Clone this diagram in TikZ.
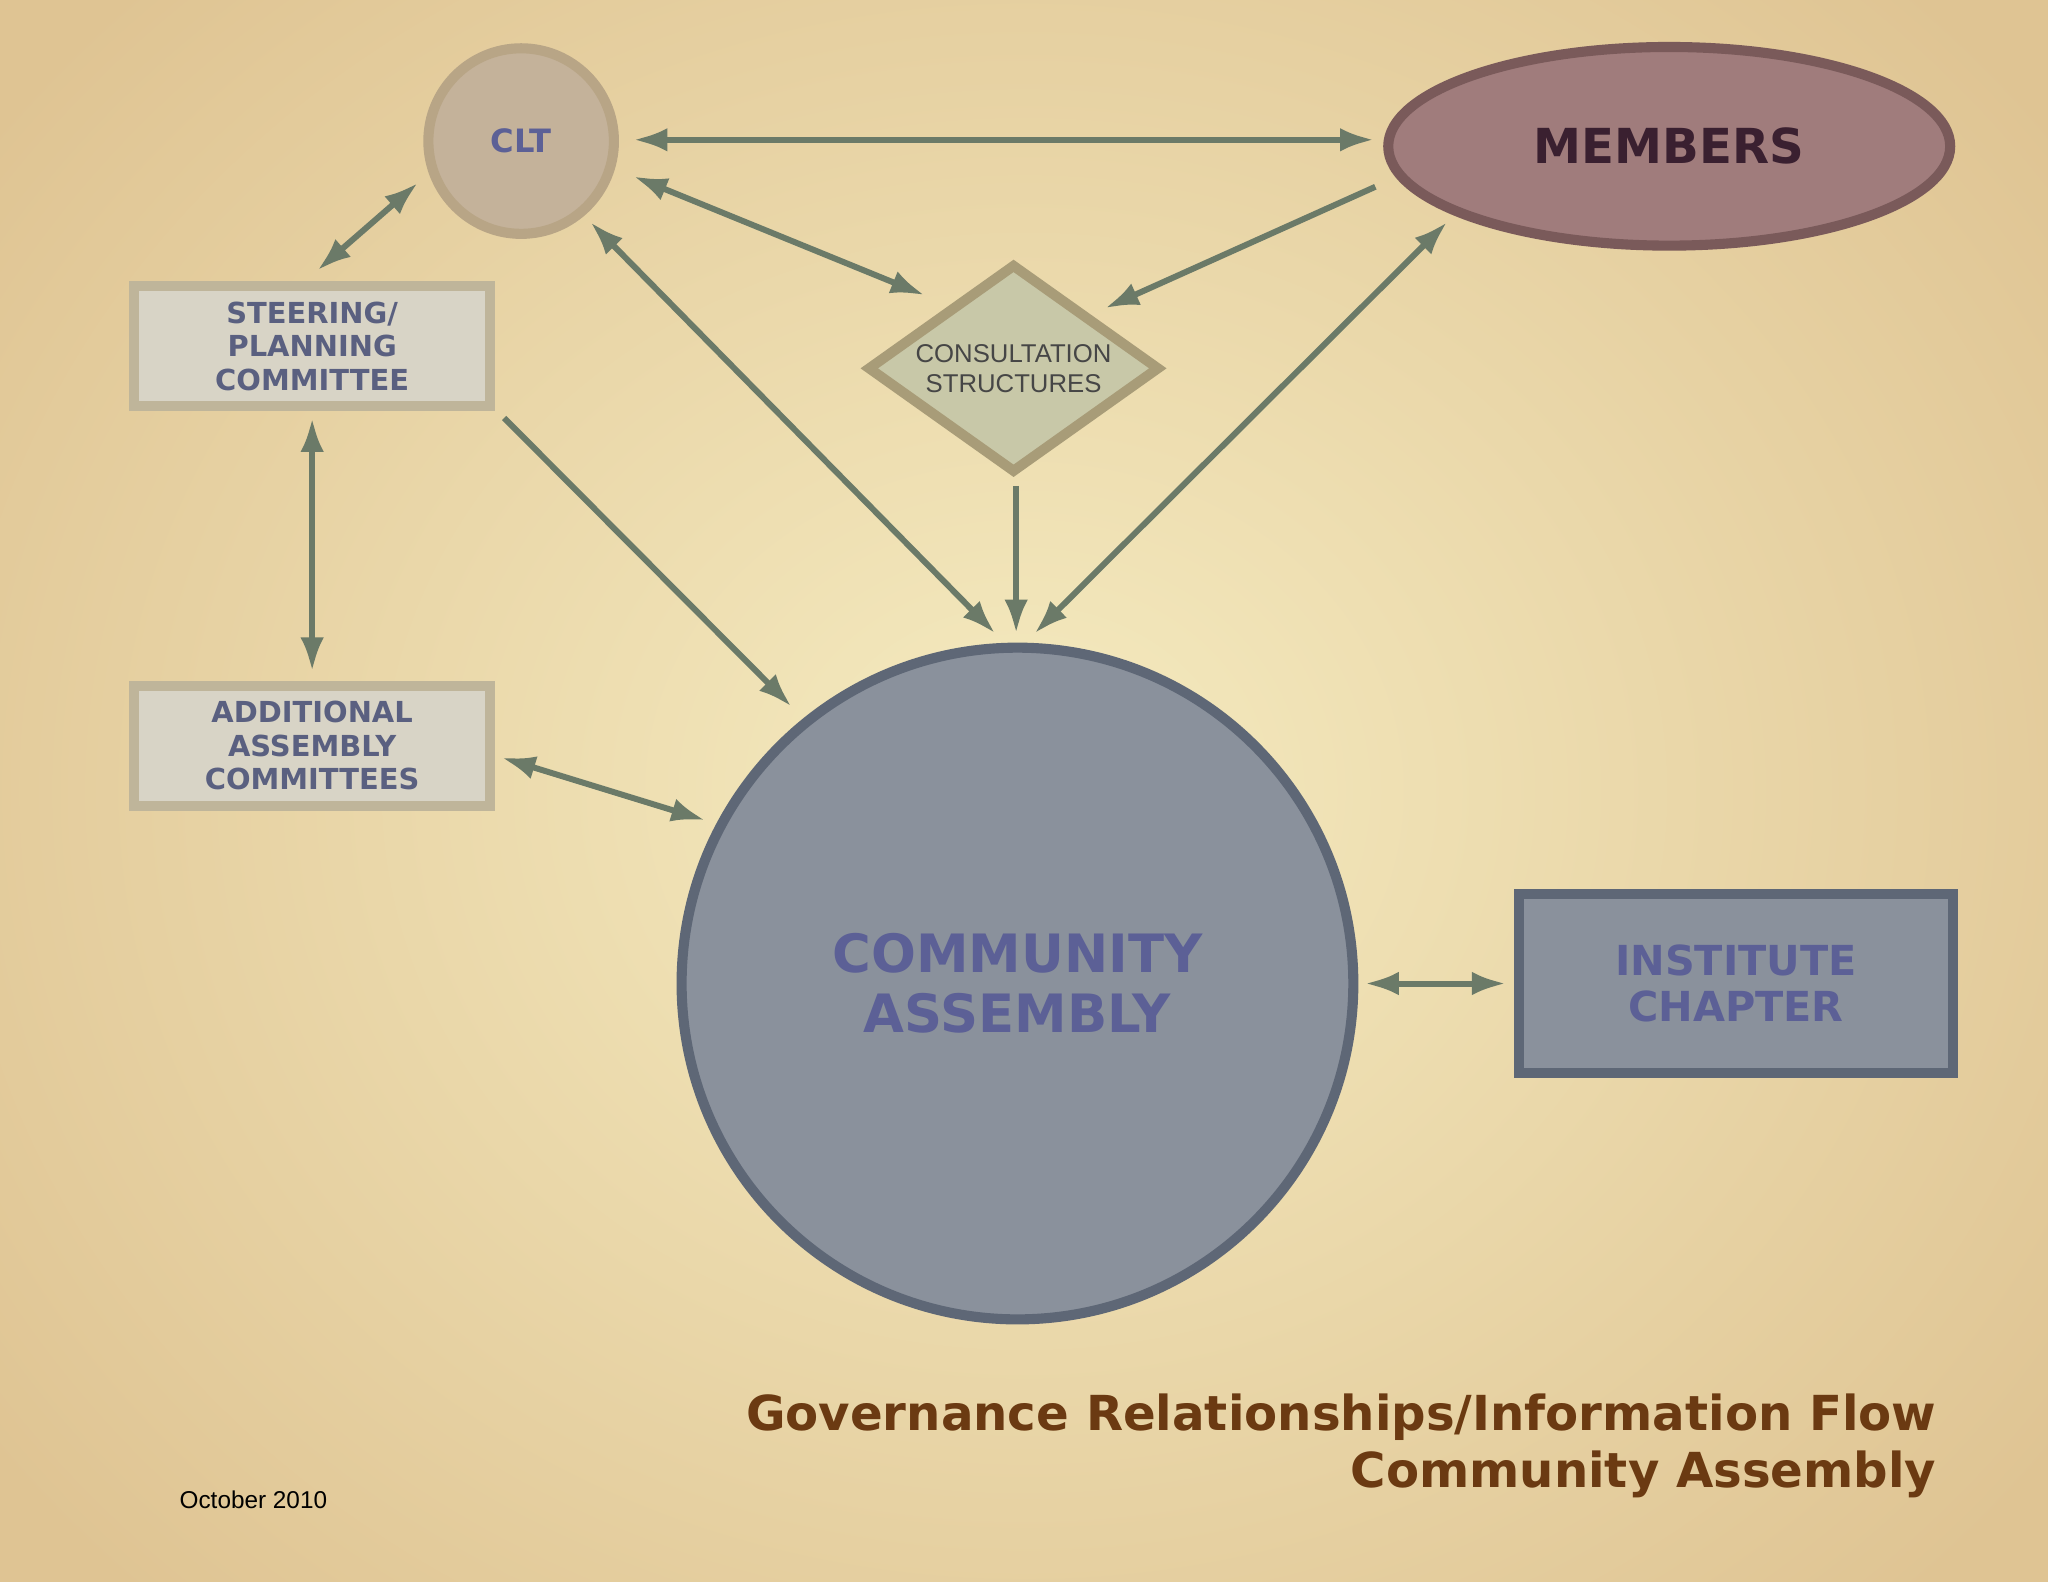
\documentclass[tikz,border=0pt]{standalone}
\usepackage{fontspec}
\setmainfont{Liberation Sans}
\newfontfamily\blk{DejaVu Sans}
\usetikzlibrary{shapes.geometric,arrows.meta}
\definecolor{arr}{HTML}{6B7A68}
\definecolor{lbl}{HTML}{5A6080}
\definecolor{cab}{HTML}{5C6096}
\definecolor{titl}{HTML}{6B3A12}
\definecolor{bgin}{HTML}{F5EBC0}
\definecolor{bgout}{HTML}{DFC493}
\definecolor{cltd}{HTML}{B8A586}
\definecolor{cltf}{HTML}{C4B29A}
\definecolor{memd}{HTML}{7A5A5A}
\definecolor{memf}{HTML}{A07C7C}
\definecolor{memt}{HTML}{3A2030}
\definecolor{boxd}{HTML}{BFB59A}
\definecolor{boxf}{HTML}{D8D4C6}
\definecolor{dimd}{HTML}{A89C78}
\definecolor{dimf}{HTML}{C8C8A8}
\definecolor{dimt}{HTML}{464646}
\definecolor{cad}{HTML}{5E6776}
\definecolor{caf}{HTML}{8A919C}
\begin{document}
\begin{tikzpicture}[x=0.01cm,y=-0.01cm,
  con/.style={draw=arr,line width=1.3pt,-{Latex[length=0.26cm,width=0.18cm]}},
  bcon/.style={con,{Latex[length=0.26cm,width=0.18cm]}-{Latex[length=0.26cm,width=0.18cm]}},
  pbox/.style={draw=boxd,fill=boxf,line width=2.2pt,minimum width=2.72cm,minimum height=0.92cm,align=center,inner sep=0pt},
  blab/.style={font=\blk\bfseries\fontsize{6.3}{7.3}\selectfont,text=lbl}]
\useasboundingbox (0,0) rectangle (1568,1211);
\shade[inner color=bgin, outer color=bgout] (-200,-250) rectangle (1768,1461);
% nodes
\node[circle,draw=cltd,fill=cltf,line width=2.2pt,minimum size=1.42cm,text=cab,font=\blk\bfseries\fontsize{7}{8}\selectfont] (clt) at (399,108) {CLT};
\node[ellipse,draw=memd,fill=memf,line width=2.2pt,minimum width=4.3cm,minimum height=1.52cm,text=memt,font=\blk\bfseries\fontsize{10.5}{12}\selectfont] (mem) at (1278,112) {MEMBERS};
\node[pbox,blab] (steer) at (239,265) {STEERING/\\PLANNING\\COMMITTEE};
\node[pbox,blab] (add) at (239,571) {ADDITIONAL\\ASSEMBLY\\COMMITTEES};
\node[diamond,draw=dimd,fill=dimf,line width=2.2pt,minimum width=2.24cm,minimum height=1.6cm,inner sep=0pt,aspect=1.4,align=center,text=dimt,font=\fontsize{5.6}{6.6}\selectfont] (cons) at (776,282) {CONSULTATION\\STRUCTURES};
\node[circle,draw=cad,fill=caf,line width=2.2pt,minimum size=5.14cm,align=center,text=cab,font=\blk\bfseries\fontsize{11.5}{13}\selectfont] (ca) at (779,753) {COMMUNITY\\ASSEMBLY};
\node[draw=cad,fill=caf,line width=2.2pt,minimum width=3.32cm,minimum height=1.37cm,align=center,text=cab,font=\blk\bfseries\fontsize{9}{10}\selectfont] (inst) at (1329,753) {INSTITUTE\\CHAPTER};
\node[anchor=east,align=right,text=titl,font=\blk\bfseries\fontsize{10.5}{12.3}\selectfont] (title) at (1495,1107) {Governance Relationships/Information Flow\\Community Assembly};
\node[font=\fontsize{5.3}{6}\selectfont] (date) at (194,1148) {October 2010};
% endpoints
\coordinate (a1) at (485,107); \coordinate (b1) at (1052,107);
\coordinate (a2) at (485,135); \coordinate (b2) at (708,226);
\coordinate (a3) at (1053,143); \coordinate (b3) at (846,236);
\coordinate (a4) at (320,140); \coordinate (b4) at (243,207);
\coordinate (a5) at (452,170); \coordinate (b5) at (762,485);
\coordinate (a6) at (1108,170); \coordinate (b6) at (792,485);
\coordinate (a7) at (778,372); \coordinate (b7) at (778,485);
\coordinate (a8) at (386,320); \coordinate (b8) at (606,541);
\coordinate (a9) at (239,320); \coordinate (b9) at (239,514);
\coordinate (a10) at (384,580); \coordinate (b10) at (540,628);
\coordinate (a11) at (1045,753); \coordinate (b11) at (1153,753);
\draw[bcon] (a1) -- (b1);
\draw[bcon] (a2) -- (b2);
\draw[con] (a3) -- (b3);
\draw[bcon] (a4) -- (b4);
\draw[bcon] (a5) -- (b5);
\draw[bcon] (a6) -- (b6);
\draw[con] (a7) -- (b7);
\draw[con] (a8) -- (b8);
\draw[bcon] (a9) -- (b9);
\draw[bcon] (a10) -- (b10);
\draw[bcon] (a11) -- (b11);
\end{tikzpicture}
\end{document}
